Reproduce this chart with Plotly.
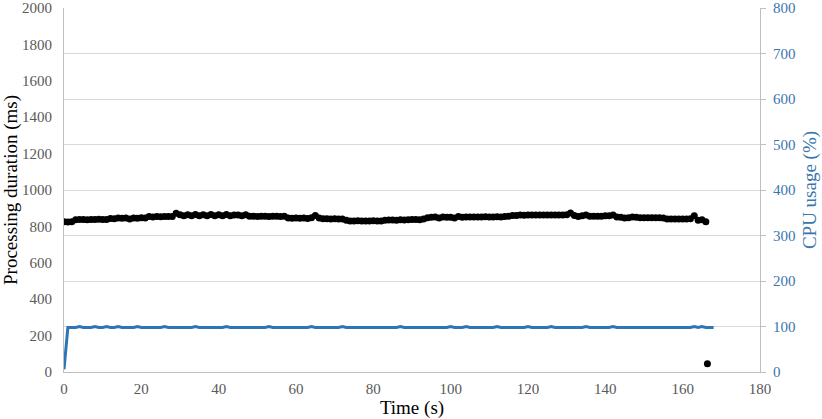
import plotly.graph_objects as go

# processing duration per frame (ms), one reading per second
time_s = list(range(167))
duration_ms = [
    826, 824, 826,
    836, 838, 838, 837, 838, 838, 839, 838, 838,
    844, 842, 846, 845, 846, 841, 846, 845, 847, 846,
    854, 852, 854, 853, 854, 854, 855,
    872,
    864, 858, 864, 858, 866, 858, 864, 858, 865, 858, 864, 858, 866, 858, 862,
    862, 858, 864, 856, 856, 855, 856, 856, 855, 856, 856, 855, 856,
    846, 845, 846, 845, 846, 844, 848,
    860,
    846, 842, 842, 840, 842, 840, 841, 834,
    830, 830, 831, 830, 830, 830, 831, 829, 830,
    834, 835, 835, 834, 836, 835, 836, 838, 838, 836, 840,
    848, 850, 852, 846, 852, 850, 850, 846, 854, 850, 852, 852, 852, 852, 852, 853,
    852, 852, 853, 852, 854, 856,
    860, 860, 862, 861, 862, 862, 862, 862, 862, 862, 862, 863, 862, 863, 864,
    874,
    860, 854, 858, 862, 856, 856, 856, 856, 858, 858, 862,
    852, 850, 846, 848, 852, 850, 848, 848, 848, 847, 848, 848, 846,
    840, 840, 840, 840, 840, 840, 842,
    858,
    834, 836, 826,
]
# last frame, far below the rest
last_time = [166.4]
last_duration = [45]

# CPU usage (%), one reading per second
cpu_time = list(range(169))
cpu_pct = [
    6, 98, 98, 98, 100, 98, 98, 98, 100, 98, 98, 100, 98, 98, 100, 98, 98, 98, 98, 100,
    98, 98, 98, 98, 98, 98, 100, 98, 98, 98, 98, 98, 98, 98, 100, 98, 98, 98, 98, 98,
    98, 98, 100, 98, 98, 98, 98, 98, 98, 98, 98, 98, 98, 100, 98, 98, 98, 98, 98, 98,
    98, 98, 98, 98, 100, 98, 98, 98, 98, 98, 98, 98, 100, 98, 98, 98, 98, 98, 98, 98,
    98, 98, 98, 98, 98, 98, 98, 100, 98, 98, 98, 98, 98, 98, 98, 98, 98, 98, 98, 98,
    100, 98, 98, 98, 100, 98, 98, 98, 98, 98, 98, 98, 100, 98, 98, 98, 98, 98, 98, 98,
    100, 98, 98, 98, 98, 98, 100, 98, 98, 98, 98, 98, 98, 98, 98, 100, 98, 98, 98, 98,
    98, 98, 100, 98, 98, 98, 98, 98, 98, 98, 98, 98, 98, 98, 98, 98, 98, 98, 98, 98,
    98, 98, 98, 100, 98, 100, 98, 98, 98,
]

font_family = 'Liberation Serif, Times New Roman, serif'
blue = '#2E75B6'
grid = '#D9D9D9'

fig = go.Figure()

fig.add_trace(go.Scatter(x=cpu_time, y=cpu_pct, yaxis='y2', mode='lines',
                         line=dict(color=blue, width=3), showlegend=False,
                         cliponaxis=False))
fig.add_trace(go.Scatter(x=time_s, y=duration_ms, mode='markers',
                         marker=dict(color='black', size=7), showlegend=False))
fig.add_trace(go.Scatter(x=last_time, y=last_duration, mode='markers',
                         marker=dict(color='black', size=7), showlegend=False))

# top margin kept at 8: any smaller and plotly drops the 2000 / 800 labels
fig.update_layout(
    width=822, height=419,
    margin=dict(l=64, r=62, t=8, b=47),
    plot_bgcolor='white', paper_bgcolor='white',
    font=dict(family=font_family, size=15, color='#595959'),
    xaxis=dict(range=[0, 180], dtick=20, showgrid=False, zeroline=False,
               showline=True, linecolor='#BFBFBF', linewidth=1,
               ticks='', ticklabelstandoff=3, automargin=False,
               title=dict(text='Time (s)', font=dict(size=19, color='black'), standoff=1)),
    yaxis=dict(range=[0, 2000], dtick=200,
               showgrid=False, zeroline=False,
               showline=True, linecolor='#BFBFBF', linewidth=1,
               ticks='', ticklabelstandoff=8, automargin=False,
               title=dict(text='Processing duration (ms)', font=dict(size=19, color='black'), standoff=3)),
    yaxis2=dict(range=[0, 800], dtick=100,
                overlaying='y', side='right',
                showgrid=True, gridcolor=grid, gridwidth=1, zeroline=False,
                showline=True, linecolor='#BFBFBF', linewidth=1,
                ticks='outside', ticklen=5, tickcolor='#BFBFBF', automargin=False,
                tickfont=dict(color='#3A76AE'), ticklabelstandoff=4,
                title=dict(text='CPU usage (%)', font=dict(size=19, color='#3A76AE'), standoff=8)),
)

fig.write_html('out.html', config={'displayModeBar': False},
               post_script="document.body.style.margin='0';")
